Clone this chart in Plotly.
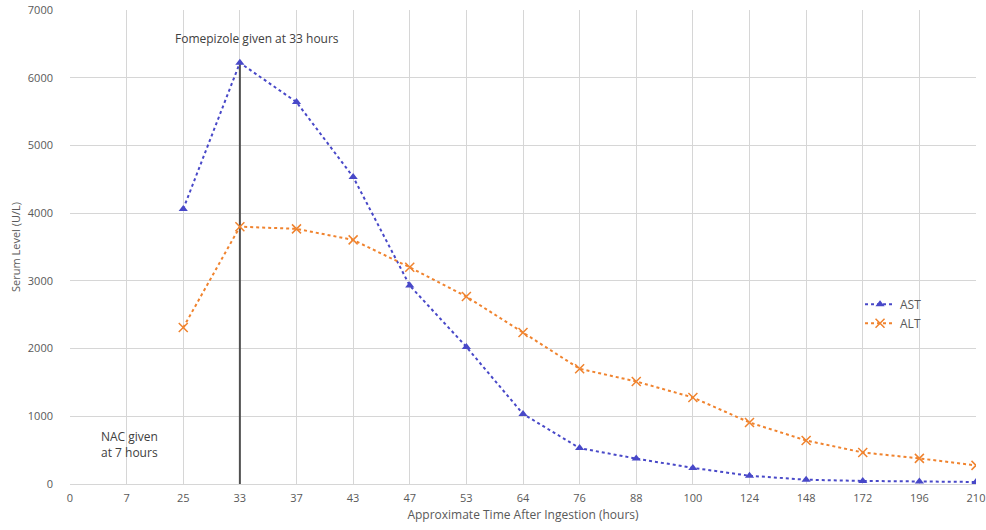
import plotly.graph_objects as go

hours = ["0", "7", "25", "33", "37", "43", "47", "53", "64", "76", "88", "100", "124", "148", "172", "196", "210"]
ast_hours = hours[2:]
ast = [4060, 6220, 5640, 4535, 2930, 2025, 1035, 530, 375, 238, 122, 63, 45, 38, 30]
alt_hours = hours[2:]
alt = [2310, 3800, 3768, 3605, 3200, 2768, 2237, 1702, 1514, 1278, 909, 643, 466, 378, 275]

fomepizole_hour = "33"
fomepizole_top = 6220
nac_hour = "7"

grey = "#595959"
font_family = "Open Sans, Liberation Sans, sans-serif"

fig = go.Figure()

fig.add_trace(go.Scatter(
    x=[fomepizole_hour, fomepizole_hour], y=[0, fomepizole_top],
    mode="lines", line=dict(color="#505050", width=2),
    showlegend=False, hoverinfo="skip"))

fig.add_trace(go.Scatter(
    x=ast_hours, y=ast, name="AST", mode="lines+markers",
    line=dict(color="#4848C8", width=2, dash="dot"),
    marker=dict(symbol="triangle-up", size=8, color="#4848C8")))

fig.add_trace(go.Scatter(
    x=alt_hours, y=alt, name="ALT", mode="lines+markers",
    line=dict(color="#F0832E", width=2, dash="dot"),
    marker=dict(symbol="x-thin-open", size=9, color="#F0832E",
                line=dict(color="#F0832E", width=1.5))))

fig.add_annotation(x=hours.index(fomepizole_hour), y=6580, xref="x", yref="y",
                   text="Fomepizole given at 33 hours", showarrow=False,
                   xanchor="center", xshift=17,
                   font=dict(family=font_family, size=12, color="#404040"))
fig.add_annotation(x=hours.index(nac_hour), y=580, xref="x", yref="y",
                   text="NAC given<br>at 7 hours", showarrow=False,
                   xanchor="left", align="left", xshift=-28,
                   font=dict(family=font_family, size=12, color="#404040"))

fig.update_layout(
    width=986, height=530,
    margin=dict(l=70, r=10, t=10, b=46, autoexpand=False),
    plot_bgcolor="white", paper_bgcolor="white",
    font=dict(family=font_family, size=11, color=grey),
    legend=dict(x=0.872, y=0.41, xanchor="left", yanchor="top",
                bgcolor="rgba(0,0,0,0)", font=dict(size=12, color=grey),
                itemwidth=30, tracegroupgap=2),
    xaxis=dict(
        type="category", categoryorder="array", categoryarray=hours,
        range=[0, len(hours) - 1], automargin=False,
        showgrid=True, gridcolor="#d6d6d6", gridwidth=1,
        zeroline=False, showline=False, ticks="",
        ticklabelstandoff=6,
        tickfont=dict(size=11, color=grey),
        title=dict(text="Approximate Time After Ingestion (hours)",
                   font=dict(size=12, color=grey), standoff=6),
    ),
    yaxis=dict(
        range=[0, 7000], dtick=1000, tickformat="d", automargin=False,
        showgrid=True, gridcolor="#d6d6d6", gridwidth=1,
        zeroline=True, zerolinecolor="#d6d6d6", zerolinewidth=1,
        showline=False, ticks="",
        ticklabelstandoff=16,
        tickfont=dict(size=11, color=grey),
        title=dict(text="Serum Level (U/L)", font=dict(size=11, color=grey), standoff=4),
    ),
)

fig.write_html("out.html")
